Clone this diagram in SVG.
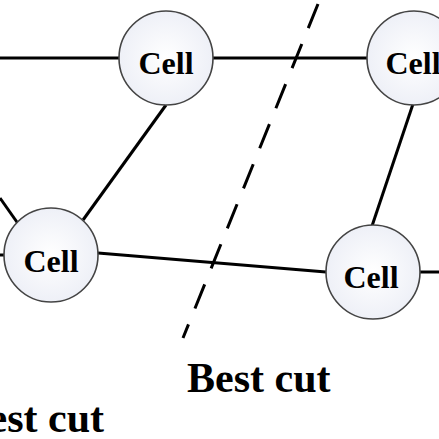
<svg xmlns="http://www.w3.org/2000/svg" width="439" height="439" viewBox="0 0 439 439">
<style>
.edge{stroke:#000;stroke-width:3;fill:none;stroke-linecap:butt}
.cut{stroke:#000;stroke-width:3;fill:none;stroke-dasharray:26 17.2}
.node circle{fill:url(#g);stroke:#444;stroke-width:1.6}
.node text{font-family:"Liberation Serif","Times New Roman",serif;font-weight:bold;font-size:32px;text-anchor:middle;fill:#000}
.label{font-family:"Liberation Serif","Times New Roman",serif;font-weight:bold;font-size:42px;fill:#000}
</style>
<defs>
<radialGradient id="g" cx="0.5" cy="0.5" r="0.5">
<stop offset="0" stop-color="#ffffff"/>
<stop offset="1" stop-color="#eef0f7"/>
</radialGradient>
</defs>
<rect width="439" height="439" fill="#fff"/>
<g id="connectors">
<line class="edge" x1="0" y1="58" x2="120" y2="58"/>
<line class="edge" x1="212" y1="58" x2="368" y2="58"/>
<line class="edge" x1="166" y1="105" x2="83" y2="220"/>
<line class="edge" x1="0" y1="198" x2="19" y2="225"/>
<line class="edge" x1="0" y1="255" x2="5" y2="255"/>
<line class="edge" x1="98" y1="253" x2="326" y2="272"/>
<line class="edge" x1="413" y1="104" x2="372" y2="226"/>
<line class="edge" x1="419" y1="272" x2="439" y2="272"/>
</g>
<g id="cut-line">
<line class="cut" x1="318" y1="4" x2="183" y2="338"/>
</g>
<g id="node-top-middle" class="node">
<circle cx="166" cy="58" r="47"/>
<text x="166" y="74">Cell</text>
</g>
<g id="node-top-right" class="node">
<circle cx="414" cy="58" r="47"/>
<text x="413" y="74">Cell</text>
</g>
<g id="node-bottom-left" class="node">
<circle cx="51" cy="255" r="47"/>
<text x="51" y="272">Cell</text>
</g>
<g id="node-bottom-right" class="node">
<circle cx="373" cy="272" r="47"/>
<text x="371" y="288">Cell</text>
</g>
<text class="label" x="187" y="392">Best cut</text>
<text class="label" x="104" y="432" text-anchor="end">Best cut</text>
</svg>
